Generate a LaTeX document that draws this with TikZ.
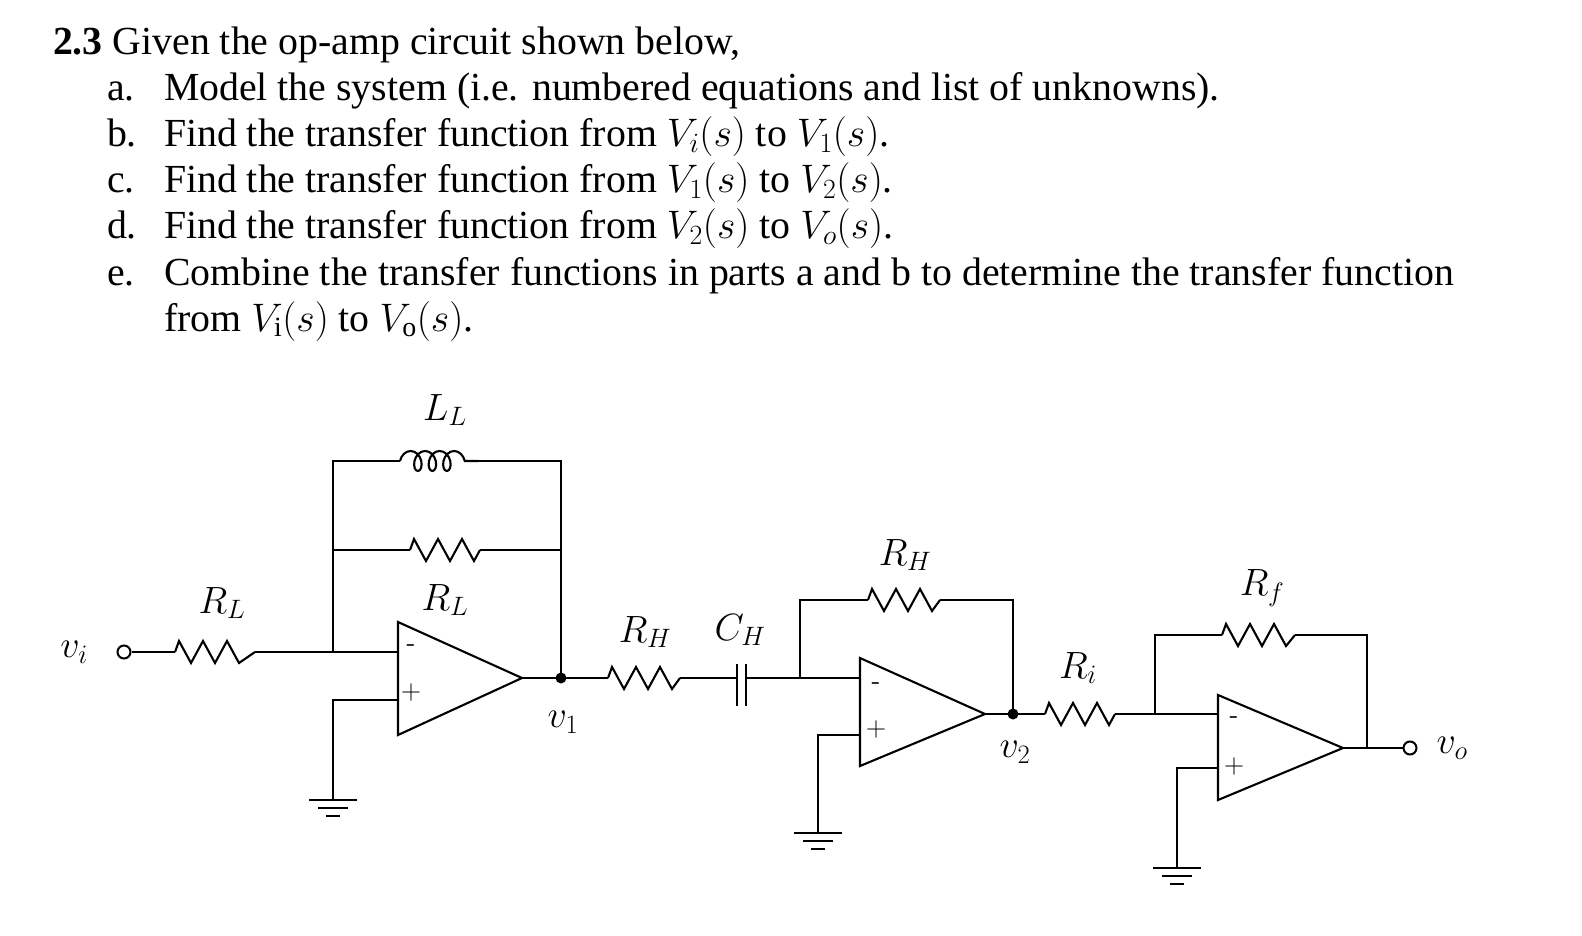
\documentclass[tikz,border=0pt]{standalone}
\usepackage{fix-cm}
\usepackage{fontspec}
\setmainfont{Liberation Serif}
\usetikzlibrary{decorations.pathmorphing}
\begin{document}
\begin{tikzpicture}[x=1pt,y=-1pt,line width=2.1pt,
  txt/.style={anchor=base west,inner sep=0pt,font=\fontsize{39.8}{44}\selectfont},
  lab/.style={inner sep=0pt,font=\fontsize{38}{44}\selectfont},
  dot/.style={circle,fill,inner sep=0pt,minimum size=11pt},
  term/.style={circle,draw,line width=2pt,inner sep=0pt,minimum size=13pt},
  sgn/.style={inner sep=0pt,font=\sffamily\fontsize{28}{28}\selectfont}]
\useasboundingbox (0,0) rectangle (1582,936);
\newcommand\myres[3]{\draw (#1,#3) -- ++(4,-11) -- ++(12,22) -- ++(12,-22) -- ++(12,22) -- ++(12,-22) -- ++(12,22) -- (#2,#3);}
\newcommand\mygnd[2]{\draw (#1-24,#2) -- (#1+24,#2); \draw (#1-15,#2+8) -- (#1+15,#2+8); \draw (#1-7,#2+16) -- (#1+7,#2+16);}
% text
\node[txt] (t0) at (52,55) {\textbf{2.3} Given the op-amp circuit shown below,};
\node[txt] (ta) at (106,101) {a.};
\node[txt] (tb) at (106,147) {b.};
\node[txt] (tc) at (106,193) {c.};
\node[txt] (td) at (106,239) {d.};
\node[txt] (te) at (106,285) {e.};
\node[txt] (ta2) at (163,101) {Model the system (i.e. numbered equations and list of unknowns).};
\node[txt] (tb2) at (163,147) {Find the transfer function from $V_i(s)$ to $V_1(s)$.};
\node[txt] (tc2) at (163,193) {Find the transfer function from $V_1(s)$ to $V_2(s)$.};
\node[txt] (td2) at (163,239) {Find the transfer function from $V_2(s)$ to $V_o(s)$.};
\node[txt] (te2) at (163,285) {Combine the transfer functions in parts a and b to determine the transfer function};
\node[txt] (tf2) at (163,331) {from $V_{\mathrm{i}}(s)$ to $V_{\mathrm{o}}(s)$.};
% op-amps
\draw (398,622) -- (522,678) -- (398,735) -- cycle;
\draw (860,658) -- (985,714) -- (860,766) -- cycle;
\draw (1218,695) -- (1343,748) -- (1218,800) -- cycle;
\node[sgn] at (411,648) {-}; \node[sgn] at (411,693) {+};
\node[sgn] at (876,686) {-}; \node[sgn] at (876,730) {+};
\node[sgn] at (1234,720) {-}; \node[sgn] at (1234,767) {+};
% stage 1
\node[term] (vi) at (124,652) {};
\node[lab] at (74,652) {$v_i$};
\draw (vi) -- (175,652); \myres{175}{255}{652}
\draw (255,652) -- (398,652);
\draw (333,652) -- (333,461) -- (400,461);
\draw[decorate,decoration={coil,aspect=0.7,segment length=14.5pt,amplitude=10pt}] (400,461) -- (478,461);
\draw (478,461) -- (561,461) -- (561,678);
\draw (333,550) -- (410,550); \myres{410}{480}{550} \draw (480,550) -- (561,550);
\node[lab] at (222,603) {$R_L$};
\node[lab] at (445,410) {$L_L$};
\node[lab] at (445,600) {$R_L$};
\draw (398,700) -- (333,700) -- (333,800); \mygnd{333}{800}
\draw (522,678) -- (608,678);
\node[dot] (v1) at (561,678) {};
\node[lab] at (563,722) {$v_1$};
% stage 2
\myres{608}{680}{678} \draw (680,678) -- (737,678);
\draw (737,664) -- (737,706); \draw (746,664) -- (746,706);
\draw (746,678) -- (860,678);
\draw (800,678) -- (800,600) -- (868,600); \myres{868}{940}{600} \draw (940,600) -- (1013,600) -- (1013,714);
\node[lab] at (645,632) {$R_H$};
\node[lab] at (740,630) {$C_H$};
\node[lab] at (905,555) {$R_H$};
\draw (860,735) -- (818,735) -- (818,833); \mygnd{818}{833}
\draw (985,714) -- (1045,714);
\node[dot] (v2) at (1013,714) {};
\node[lab] at (1015,752) {$v_2$};
% stage 3
\myres{1045}{1115}{714} \draw (1115,714) -- (1218,714);
\node[lab] at (1078,668) {$R_i$};
\draw (1155,714) -- (1155,635) -- (1222,635); \myres{1222}{1295}{635} \draw (1295,635) -- (1367,635) -- (1367,748);
\node[lab] at (1262,588) {$R_f$};
\draw (1218,768) -- (1177,768) -- (1177,868); \mygnd{1177}{868}
\node[term] (vo) at (1410,748) {};
\draw (1343,748) -- (vo);
\node[lab] at (1452,748) {$v_o$};
\end{tikzpicture}
\end{document}
